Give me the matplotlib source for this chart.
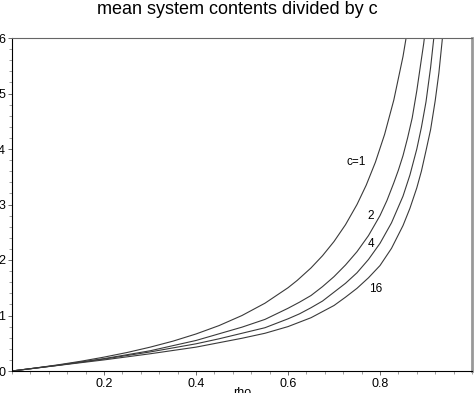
import matplotlib
matplotlib.use("Agg")
import matplotlib.pyplot as plt
from matplotlib.ticker import MultipleLocator

# values (mean system contents / c against rho)
rho_c1 = [0.0, 0.05, 0.1, 0.15, 0.2, 0.25, 0.3, 0.35, 0.4, 0.45, 0.5, 0.55, 0.6, 0.62,
          0.65, 0.675, 0.7, 0.725, 0.75, 0.77, 0.79, 0.81, 0.83, 0.85, 0.865]
val_c1 = [0.0, 0.053, 0.111, 0.176, 0.25, 0.333, 0.429, 0.538, 0.667, 0.818, 1.0, 1.222,
          1.5, 1.632, 1.857, 2.077, 2.333, 2.636, 3.0, 3.348, 3.762, 4.263, 4.882,
          5.667, 6.41]

rho_c2 = [0.0, 0.1, 0.2, 0.3, 0.4, 0.45, 0.5, 0.55, 0.6, 0.625, 0.65, 0.675, 0.7,
          0.725, 0.75, 0.775, 0.8, 0.815, 0.83, 0.84, 0.85, 0.86, 0.87, 0.88, 0.89,
          0.895, 0.905]
val_c2 = [0.0, 0.104, 0.223, 0.364, 0.55, 0.67, 0.79, 0.93, 1.13, 1.24, 1.36, 1.52,
          1.70, 1.91, 2.15, 2.44, 2.80, 3.07, 3.39, 3.62, 3.88, 4.20, 4.56, 5.05, 5.62,
          5.9, 6.6]

rho_c4 = [0.0, 0.1, 0.2, 0.3, 0.4, 0.45, 0.5, 0.55, 0.6, 0.625, 0.65, 0.675, 0.7,
          0.725, 0.75, 0.775, 0.8, 0.825, 0.85, 0.865, 0.88, 0.89, 0.9, 0.91, 0.92]
val_c4 = [0.0, 0.103, 0.215, 0.343, 0.49, 0.58, 0.68, 0.78, 0.94, 1.03, 1.14, 1.26,
          1.42, 1.58, 1.77, 2.01, 2.30, 2.67, 3.15, 3.53, 4.0, 4.39, 4.85, 5.47, 6.23]

rho_c16 = [0.0, 0.1, 0.2, 0.3, 0.4, 0.45, 0.5, 0.55, 0.6, 0.625, 0.65, 0.675, 0.7,
           0.725, 0.75, 0.775, 0.8, 0.825, 0.85, 0.865, 0.88, 0.89, 0.9, 0.91, 0.92,
           0.928, 0.935, 0.945]
val_c16 = [0.0, 0.10, 0.20, 0.31, 0.43, 0.51, 0.59, 0.68, 0.80, 0.88, 0.96, 1.07,
           1.18, 1.33, 1.49, 1.68, 1.90, 2.21, 2.62, 2.93, 3.30, 3.60, 3.97, 4.35,
           4.87, 5.37, 5.94, 6.85]

curve_labels = ["c=1", "2", "4", "16"]
label_pos = [(0.748, 3.77), (0.780, 2.79), (0.780, 2.29), (0.791, 1.48)]

plt.rcParams['font.family'] = ['Liberation Sans', 'DejaVu Sans']

fig = plt.figure(figsize=(4.74, 3.93), dpi=100)
ax = fig.add_axes([12/474, 22/393, 460/474, 333/393])

for r, v in [(rho_c1, val_c1), (rho_c2, val_c2), (rho_c4, val_c4), (rho_c16, val_c16)]:
    ax.plot(r, v, color="#3a3a3a", lw=0.8)

for txt, (x, y) in zip(curve_labels, label_pos):
    ax.text(x, y, txt, fontsize=8.5, ha="center", va="center", color="black")

ax.set_xlim(0, 1)
ax.set_ylim(0, 6)
ax.set_xticks([0.2, 0.4, 0.6, 0.8])
ax.set_yticks([0, 1, 2, 3, 4, 5, 6])
ax.xaxis.set_minor_locator(MultipleLocator(0.04))
ax.yaxis.set_minor_locator(MultipleLocator(0.2))
ax.tick_params(which="major", length=3, width=0.6, color="#555555", labelsize=9, pad=2)
ax.tick_params(which="minor", length=2, width=0.5, color="#777777")

ax.spines["left"].set_linewidth(0.8)
ax.spines["bottom"].set_linewidth(0.8)
ax.spines["top"].set_color("#666666")
ax.spines["top"].set_linewidth(0.8)
ax.spines["right"].set_color("#999999")
ax.spines["right"].set_linewidth(2)

ax.set_xlabel("rho", fontsize=9, labelpad=-2)
fig.text(0.5, 1 - 10/393, "mean system contents divided by c", ha="center", va="center",
         fontsize=13)

fig.savefig("out.png", dpi=100)
